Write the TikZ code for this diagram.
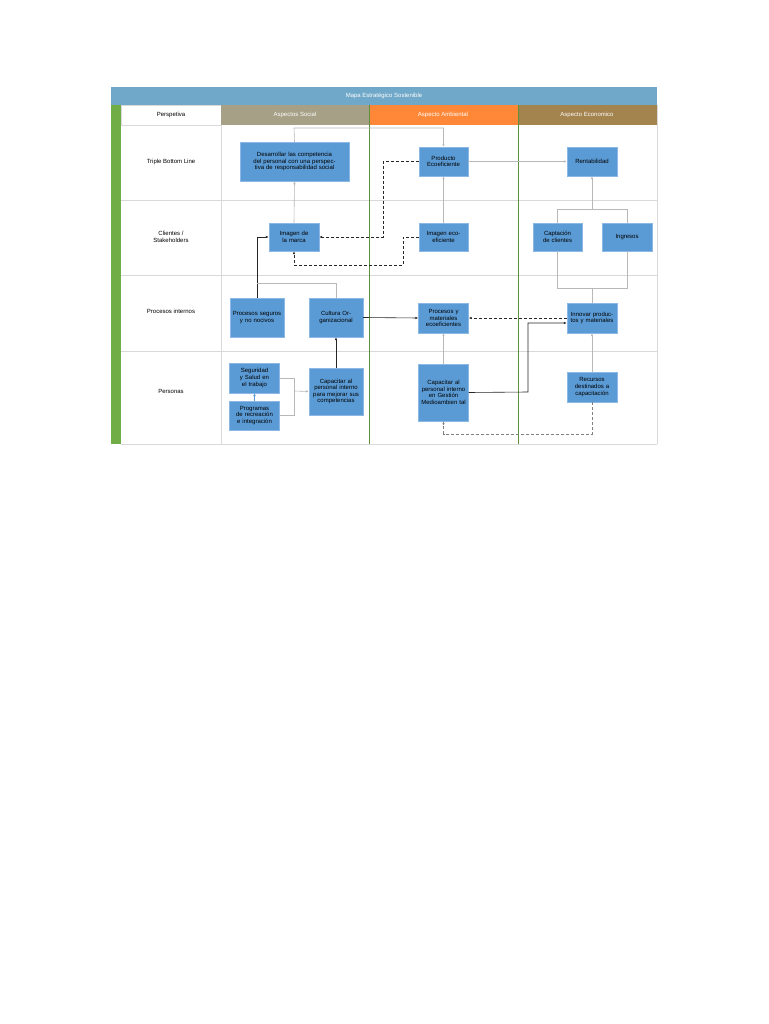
\documentclass[tikz,border=0pt]{standalone}
\usepackage{fontspec}
\setmainfont{Liberation Sans}
\usetikzlibrary{arrows.meta}
\definecolor{boxblue}{HTML}{5B9BD5}
\definecolor{boxedge}{HTML}{8DB8E6}
\definecolor{titlebar}{HTML}{6FA8C8}
\definecolor{leafgreen}{HTML}{70AD47}
\definecolor{socialc}{HTML}{A6A086}
\definecolor{ambc}{HTML}{FF8838}
\definecolor{ecoc}{HTML}{A3834E}
\definecolor{sepgreen}{HTML}{5E8F3A}
\definecolor{gridgray}{HTML}{D9D9D9}
\definecolor{linkgray}{HTML}{B8B8B8}
\tikzset{
  bx/.style={draw=boxedge,fill=boxblue,inner sep=1pt,align=center,font=\fontsize{6}{6.6}\selectfont,text=black},
  lbl/.style={font=\fontsize{6}{7}\selectfont,align=center},
  hdr/.style={font=\fontsize{6}{7}\selectfont,text=white},
  gl/.style={draw=linkgray,line width=0.6pt},
  bl/.style={draw=black!85,line width=0.6pt},
  dl/.style={draw=black!85,dashed,dash pattern=on 3pt off 2pt,line width=0.8pt},
  gdl/.style={draw=gray,dashed,dash pattern=on 3pt off 2pt,line width=0.7pt},
  arr/.style={-{Latex[length=3pt,width=2.5pt]}}
}
\begin{document}
\begin{tikzpicture}[x=1pt,y=-1pt]
\useasboundingbox (0,0) rectangle (768,1024);
\fill[white] (0,0) rectangle (768,1024);
% title bar
\fill[titlebar] (111,87) rectangle (657,105);
\node[hdr] (title) at (384,96) {Mapa Estratégico Sostenible};
\fill[leafgreen] (111,105) rectangle (121,444);
% headers
\fill[white] (121,105) rectangle (221,125);
\draw[gridgray] (121,105) rectangle (221,125);
\fill[socialc] (221,105) rectangle (369,125);
\fill[ambc] (369,105) rectangle (518,125);
\fill[ecoc] (518,105) rectangle (657,125);
\node[lbl] (hp) at (171,115) {Perspetiva};
\node[hdr] (hs) at (295,115) {Aspectos Social};
\node[hdr] (ha) at (443,115) {Aspecto Ambiental};
\node[hdr] (he) at (587,115) {Aspecto Economico};
% grid
\foreach \yy in {200,275,351,444} \draw[gridgray] (121,\yy) -- (657,\yy);
\draw[gridgray] (221,125) -- (221,444);
\draw[gridgray] (657,105) -- (657,444);
\draw[sepgreen,line width=0.8pt] (369,105) -- (369,444);
\draw[sepgreen,line width=0.8pt] (518,105) -- (518,444);
% row labels
\node[lbl] (r1) at (171,162) {Triple Bottom Line};
\node[lbl] (r2) at (171,237) {Clientes /\\Stakeholders};
\node[lbl] (r3) at (171,311) {Procesos internos};
\node[lbl] (r4) at (171,391) {Personas};
% boxes
\node[bx,minimum width=109pt,minimum height=39pt,text width=107pt] (des) at (294.5,161.5) {Desarrollar las competencia del personal con una perspectiva de responsabilidad social};
\node[bx,minimum width=50pt,minimum height=28pt,text width=48pt] (imm) at (294,237) {Imagen de la marca};
\node[bx,minimum width=49pt,minimum height=29pt,text width=47pt] (pro) at (443.5,161.5) {Producto Ecoeficiente};
\node[bx,minimum width=50pt,minimum height=29pt,text width=48pt] (ren) at (592,161.5) {Rentabilidad};
\node[bx,minimum width=49pt,minimum height=28pt,text width=47pt] (ime) at (443.5,237) {Imagen ecoeficiente};
\node[bx,minimum width=49pt,minimum height=28pt,text width=47pt] (cap) at (557.5,237) {Captación de clientes};
\node[bx,minimum width=50pt,minimum height=28pt,text width=48pt] (ing) at (627,237) {Ingresos};
\node[bx,minimum width=54pt,minimum height=39pt,text width=52pt] (pse) at (257,317.5) {Procesos seguros y no nocivos};
\node[bx,minimum width=54pt,minimum height=39pt,text width=52pt] (cul) at (336,317.5) {Cultura Organizacional};
\node[bx,minimum width=49pt,minimum height=30pt,text width=48pt] (pma) at (443.5,318) {Procesos y materiales ecoeficientes};
\node[bx,minimum width=50pt,minimum height=30pt,text width=48pt] (inn) at (592,318) {Innovar productos y materiales};
\node[bx,minimum width=49pt,minimum height=30pt,text width=48pt] (seg) at (254.5,378) {Seguridad y Salud en el trabajo};
\node[bx,minimum width=49pt,minimum height=29pt,text width=48pt] (prg) at (254.5,415.5) {Programas de recreación e integración};
\node[bx,minimum width=54pt,minimum height=47pt,text width=52pt] (cpm) at (336,391.5) {Capacitar al personal interno para mejorar sus competencias};
\node[bx,minimum width=49pt,minimum height=57pt,text width=48pt] (cpg) at (443.5,392.5) {Capacitar al personal interno en Gestión Medioambien tal};
\node[bx,minimum width=50pt,minimum height=30pt,text width=48pt] (rec) at (592,387) {Recursos destinados a capacitación};
% connectors
\coordinate (c1) at (294,128);
\coordinate (c2) at (443.5,128);
\draw[gl,arr] (imm.north) -- (des.south);
\draw[gl,arr] (des.north) -- (c1) -- (c2) -- (pro.north);
\draw[gl,arr] (ime.north) -- (pro.south);
\draw[gl,arr] (pro.east) -- (ren.west);
\coordinate (j1) at (592,209);
\draw[gl,arr] (cap.north) |- (j1) -| (ren.south);
\draw[gl] (ing.north) |- (j1);
\coordinate (j2) at (592,288);
\draw[gl] (inn.north) -- (j2) -| (cap.south);
\draw[gl] (j2) -| (ing.south);
\draw[dl,arr] (pro.west) -- (383,161.5) -- (383,237) -- (imm.east);
\draw[dl,arr] (ime.west) -- (403,237) -- (403,265) -- (294,265) -- (imm.south);
\draw[bl,arr] (pse.north) |- (imm.west);
\draw[gl] (257,283) -| (cul.north);
\draw[bl,arr] (cul.east) -- (pma.west);
\draw[dl,arr] (inn.west) -- (pma.east);
\draw[bl,arr] (cpg.east) -- (528,392) -- (528,323) -- (inn.west |- 0,323);
\draw[gl,arr] (cpg.north) -- (pma.south);
\draw[gl,arr] (rec.north) -- (inn.south);
\draw[gdl,arr] (rec.south) -- (592,434) -- (443.5,434) -- (cpg.south);
\draw[bl,arr] (cpm.north) -- (cul.south);
\coordinate (j3) at (294,391);
\draw[gl] (seg.east) -- (294,378) -- (294,415.5) -- (prg.east);
\draw[gl,arr] (j3) -- (cpm.west);
\draw[draw=boxblue,arr] (prg.north) -- (seg.south);
\end{tikzpicture}
\end{document}
